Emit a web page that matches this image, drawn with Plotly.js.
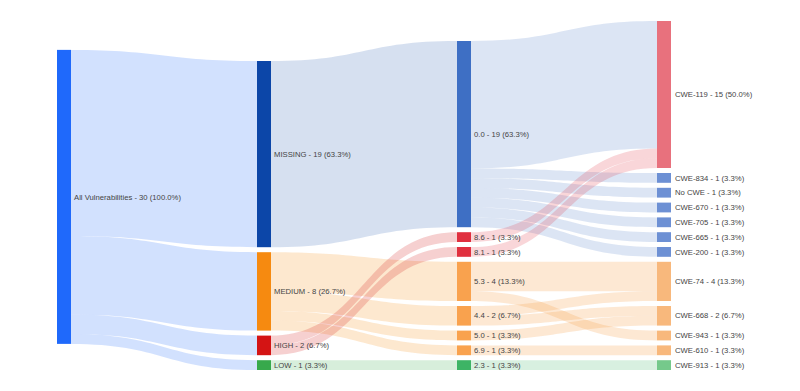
<!DOCTYPE html>
<html>
<head>
<meta charset="utf-8">
<script src="https://cdn.plot.ly/plotly-3.0.1.min.js"></script>
<style>html,body{margin:0;padding:0;background:#fff;}#chart{width:800px;height:391px;}</style>
</head>
<body>
<div id="chart"></div>
<script>
// Node names
const nodeNames = [
  "All Vulnerabilities",
  "MISSING", "MEDIUM", "HIGH", "LOW",
  "0.0", "8.6", "8.1", "5.3", "4.4", "5.0", "6.9", "2.3",
  "CWE-119", "CWE-834", "No CWE", "CWE-670", "CWE-705", "CWE-665", "CWE-200",
  "CWE-74", "CWE-668", "CWE-943", "CWE-610", "CWE-913"
];
// Flows
const linkSources = [0, 0, 0, 0,  1,  2, 2, 2, 2,  3, 3,  4,  5, 5, 5, 5, 5, 5, 5,  6, 7,  8, 8,  9, 9,  10, 11, 12];
const linkTargets = [1, 2, 3, 4,  5,  8, 9, 10, 11,  6, 7,  12,  13, 14, 15, 16, 17, 18, 19,  13, 13,  20, 22,  20, 21,  21, 23, 24];
const linkValues  = [19, 8, 2, 1,  19,  4, 2, 1, 1,  1, 1,  1,  13, 1, 1, 1, 1, 1, 1,  1, 1,  3, 1,  1, 1,  1, 1, 1];
const totalCount = 30;

// Styles
const nodeColors = [
  "#1f69fb",
  "#0c46a8", "#f68a10", "#d41414", "#37a94c",
  "#3e6fc4", "#e0303f", "#e0303f", "#f9a24e", "#f9a24e", "#f9a24e", "#f9a24e", "#3db465",
  "#e8717d", "#6d90d4", "#6d90d4", "#6d90d4", "#6d90d4", "#6d90d4", "#6d90d4",
  "#f8b87c", "#f8b87c", "#f8b87c", "#f8b87c", "#75c98b"
];
const linkColorBySource = {
  0: "rgba(31,105,251,0.2)",
  1: "rgba(12,70,168,0.17)",
  2: "rgba(246,138,16,0.2)",
  3: "rgba(212,20,20,0.2)",
  4: "rgba(55,169,76,0.2)",
  5: "rgba(62,111,196,0.18)",
  6: "rgba(224,48,63,0.2)",
  7: "rgba(224,48,63,0.2)",
  8: "rgba(249,162,78,0.25)",
  9: "rgba(249,162,78,0.25)",
  10: "rgba(249,162,78,0.25)",
  11: "rgba(249,162,78,0.25)",
  12: "rgba(61,180,101,0.2)"
};

const inSum = nodeNames.map(() => 0), outSum = nodeNames.map(() => 0);
linkSources.forEach((s, i) => { outSum[s] += linkValues[i]; inSum[linkTargets[i]] += linkValues[i]; });
const nodeLabels = nodeNames.map((n, i) => {
  const v = Math.max(inSum[i], outSum[i]);
  return n + " - " + v + " (" + (v / totalCount * 100).toFixed(1) + "%)";
});
const linkColors = linkSources.map(s => linkColorBySource[s]);

const data = [{
  type: "sankey",
  orientation: "h",
  arrangement: "snap",
  node: {
    label: nodeLabels,
    color: nodeColors,
    pad: 5,
    thickness: 14,
    line: {width: 0}
  },
  link: {
    source: linkSources,
    target: linkTargets,
    value: linkValues,
    color: linkColors
  },
  textfont: {family: "Liberation Sans, Arial, sans-serif", size: 7.7, color: "#444", shadow: "none"}
}];

const layout = {
  width: 800, height: 391,
  margin: {l: 57, r: 129, t: 21, b: 21},
  paper_bgcolor: "#fff",
  font: {family: "Liberation Sans, Arial, sans-serif", size: 7.7, color: "#444"}
};

// Put every node label on the right-hand side of its node (as in the reference)
function labelsToRight(gd) {
  gd.querySelectorAll('.sankey-node').forEach(g => {
    const d = g.__data__;
    if (!d || !d.left) return;
    const t = g.querySelector('.node-label');
    if (!t) return;
    t.setAttribute('text-anchor', 'start');
    t.querySelectorAll('tspan').forEach(ts => ts.setAttribute('text-anchor', 'start'));
    const tr = t.getAttribute('transform') || '';
    const m = /translate\(\s*([-\d.e]+)[\s,]+([-\d.e]+)\s*\)/.exec(tr);
    const posY = m ? m[2] : (d.visibleHeight / 2);
    const posX = (d.nodeLineWidth || 0) / 2 + 4 + d.visibleWidth;
    t.setAttribute('transform', 'translate(' + posX + ',' + posY + ')');
  });
}

Plotly.newPlot("chart", data, layout, {displayModeBar: false, staticPlot: true}).then(labelsToRight);
</script>
</body>
</html>
